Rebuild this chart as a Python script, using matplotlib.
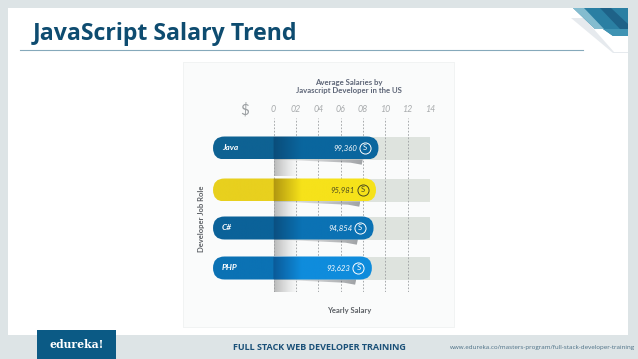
import numpy as np
import matplotlib
matplotlib.use('Agg')
import matplotlib.pyplot as plt
from matplotlib.colors import to_rgb
from matplotlib.patches import FancyBboxPatch, Polygon, Rectangle

roles = ['Java', '', 'C#', 'PHP']
salaries = [99360, 95981, 94854, 93623]
bar_ends = [9.39, 9.17, 8.95, 8.80]
ticks = [0, 2, 4, 6, 8, 10, 12, 14]
tick_labels = ['0', '02', '04', '06', '08', '10', '12', '14']

row_pos = [0, 1.05, 2, 3]
bar_left = -5.41
bar_h = 0.575
# left colour, colour at the zero fold, colour at the right end
bar_colors = [('#0e6293', '#0a4d7a', '#0a669e'),
              ('#e8d01e', '#b09610', '#f6e21a'),
              ('#0b6299', '#0a4f80', '#0b72b4'),
              ('#0b72b4', '#0a5a98', '#0f8cdc')]
text_colors = ['white', '#4a4a20', 'white', 'white']

W, H = 638, 359
fig = plt.figure(figsize=(W / 100, H / 100), dpi=100, facecolor='#dde4e6')

# slide furniture, in pixels
bg = fig.add_axes([0, 0, 1, 1])
bg.set_xlim(0, W)
bg.set_ylim(H, 0)
bg.axis('off')
bg.add_patch(Rectangle((8, 8), 620, 327, fc='white', ec='none'))
bg.add_patch(Polygon([(571, 18), (584, 18), (614, 52), (628, 52), (628, 53), (613, 53)], fc='#e6eaee', ec='none'))
bg.add_patch(Polygon([(573, 8), (628, 8), (628, 36), (613, 36), (603, 29), (595, 29)], fc='#2a7fa3', ec='none'))
bg.add_patch(Polygon([(573, 8), (584, 8), (604, 29), (595, 29)], fc='#84bccf', ec='none'))
bg.add_patch(Polygon([(603, 29), (628, 29), (628, 36), (613, 36)], fc='#3f93b3', ec='none'))
bg.add_patch(Polygon([(600, 8), (611, 8), (628, 24), (628, 29), (620, 29)], fc='#1e6288', ec='none'))
bg.plot([20, 583], [50, 50], color='#86a9bb', lw=0.8)
bg.text(33, 34.5, 'JavaScript Salary Trend', family='Open Sans', weight='bold', fontsize=16.7,
        color='#0e4c70', va='center')

bg.add_patch(Rectangle((183, 62), 272, 266, fc='#f1f3f3', ec='none'))
bg.add_patch(Rectangle((184, 63), 270, 264, fc='#fafbfb', ec='none'))

bg.add_patch(Rectangle((37, 330), 79, 29, fc='#0b5a85', ec='none'))
bg.text(76.5, 345, 'edureka!', family='DejaVu Serif', weight='bold', fontsize=7.8, color='white',
        ha='center', va='center')
bg.text(319, 347, 'FULL STACK WEB DEVELOPER TRAINING', family='Open Sans', weight='bold', fontsize=6.45,
        color='#1a5078', ha='center', va='center')
bg.text(635, 348, 'www.edureka.co/masters-program/full-stack-developer-training', family='Open Sans',
        fontsize=4.5, color='#4c7086', ha='right', va='center')

# chart, x axis runs 0-14 between pixels 273.5 and 430
ax = fig.add_axes([273.5 / W, 1 - 292 / H, 156.5 / W, 174 / H])
ax.patch.set_alpha(0)
for s in ax.spines.values():
    s.set_visible(False)

ax.barh(row_pos, [14] * 4, height=bar_h, color='#dee3de', zorder=0.2)

for y, end, cols, role, sal, tc in zip(row_pos, bar_ends, bar_colors, roles, salaries, text_colors):
    ybot = y + bar_h / 2

    # fold shadow and drop shadow below the bar
    fold = np.ones((1, 64, 4)) * np.array([0.35, 0.35, 0.35, 0])
    fold[0, :, 3] = np.linspace(0.5, 0, 64) ** 1.3
    ax.imshow(fold, extent=(0, 2.2, ybot + 0.42, ybot), aspect='auto', zorder=0.4)
    drop = np.ones((1, 64, 4)) * np.array([0.2, 0.22, 0.25, 0])
    drop[0, :, 3] = np.linspace(0, 0.45, 64)
    im = ax.imshow(drop, extent=(0, end - 1.5, ybot + 0.13, ybot), aspect='auto', zorder=2)
    wedge = Polygon([(0, ybot), (end - 1.4, ybot), (end - 1.5, ybot + 0.13), (end - 2.5, ybot + 0.08)],
                    transform=ax.transData, fc='none', ec='none')
    ax.add_patch(wedge)
    im.set_clip_path(wedge)

    # bar body with horizontal gradient
    xs = np.linspace(bar_left, end, 400)
    c0, c1, c2 = [np.array(to_rgb(c)) for c in cols]
    grad = np.zeros((1, 400, 3))
    for i, x in enumerate(xs):
        if x < 0:
            grad[0, i] = c0
        else:
            t = min(x / 2.5, 1)
            grad[0, i] = c1 * (1 - t) + c2 * t
    box = FancyBboxPatch((bar_left, y - bar_h / 2), end - bar_left, bar_h,
                         boxstyle='round,pad=0,rounding_size=1.03', mutation_aspect=11.18 / 40,
                         fc='none', ec='none', zorder=3, clip_on=False)
    ax.add_patch(box)
    im = ax.imshow(grad, extent=(bar_left, end, y + bar_h / 2, y - bar_h / 2), aspect='auto', zorder=3)
    im.set_clip_box(fig.bbox)
    im.set_clip_path(box)

    ax.text(-4.6, y, role, family='Lato', style='italic', weight='bold', fontsize=6, color=tc,
            va='center', zorder=4, clip_on=False)
    ax.text(end - 1.92, y, f'{sal:,}', family='Lato', style='italic', fontsize=5.6, color=tc,
            ha='right', va='center', zorder=4)
    ax.plot(end - 1.2, y, 'o', ms=8, mfc='none', mec=tc, mew=0.7, zorder=4, clip_on=False)
    ax.text(end - 1.2, y, 'S', family='Lato', fontsize=5.5, color=tc, ha='center', va='center', zorder=4)

ax.set_xlim(0, 14)
ax.set_ylim(3.6, -0.75)
ax.set_xticks(ticks)
ax.set_xticklabels(tick_labels, family='Lato', style='italic', fontsize=6.4, color='#a8abad')
ax.set_yticks([])
ax.tick_params(axis='x', length=0, top=True, labeltop=True, bottom=False, labelbottom=False, pad=3)
ax.set_axisbelow(True)
ax.grid(axis='x', color='#9a9d9f', lw=0.6, ls=(0, (2, 2)), zorder=0.5)

ax.text(-2.55, -0.95, '$', family='Lato', fontsize=11, color='#9a9ea1', ha='center', va='center')
ax.text(0.482, 1.181, 'Average Salaries by\nJavascript Developer in the US', transform=ax.transAxes,
        family='Lato', weight='bold', fontsize=5.6, color='#5d6577', ha='center', va='center', linespacing=1.25)
ax.set_xlabel('Yearly Salary', family='Lato', weight='bold', fontsize=5.5, color='#5d6166')
ax.xaxis.set_label_coords(0.482, -0.109)
ax.xaxis.get_label().set_va('center')
ax.set_ylabel('Developer Job Role', family='Lato', weight='bold', fontsize=5.5, color='#5d6166')
ax.yaxis.set_label_coords(-0.458, 0.42)
ax.yaxis.get_label().set_va('center')

fig.savefig('out.png', dpi=100, facecolor=fig.get_facecolor())
